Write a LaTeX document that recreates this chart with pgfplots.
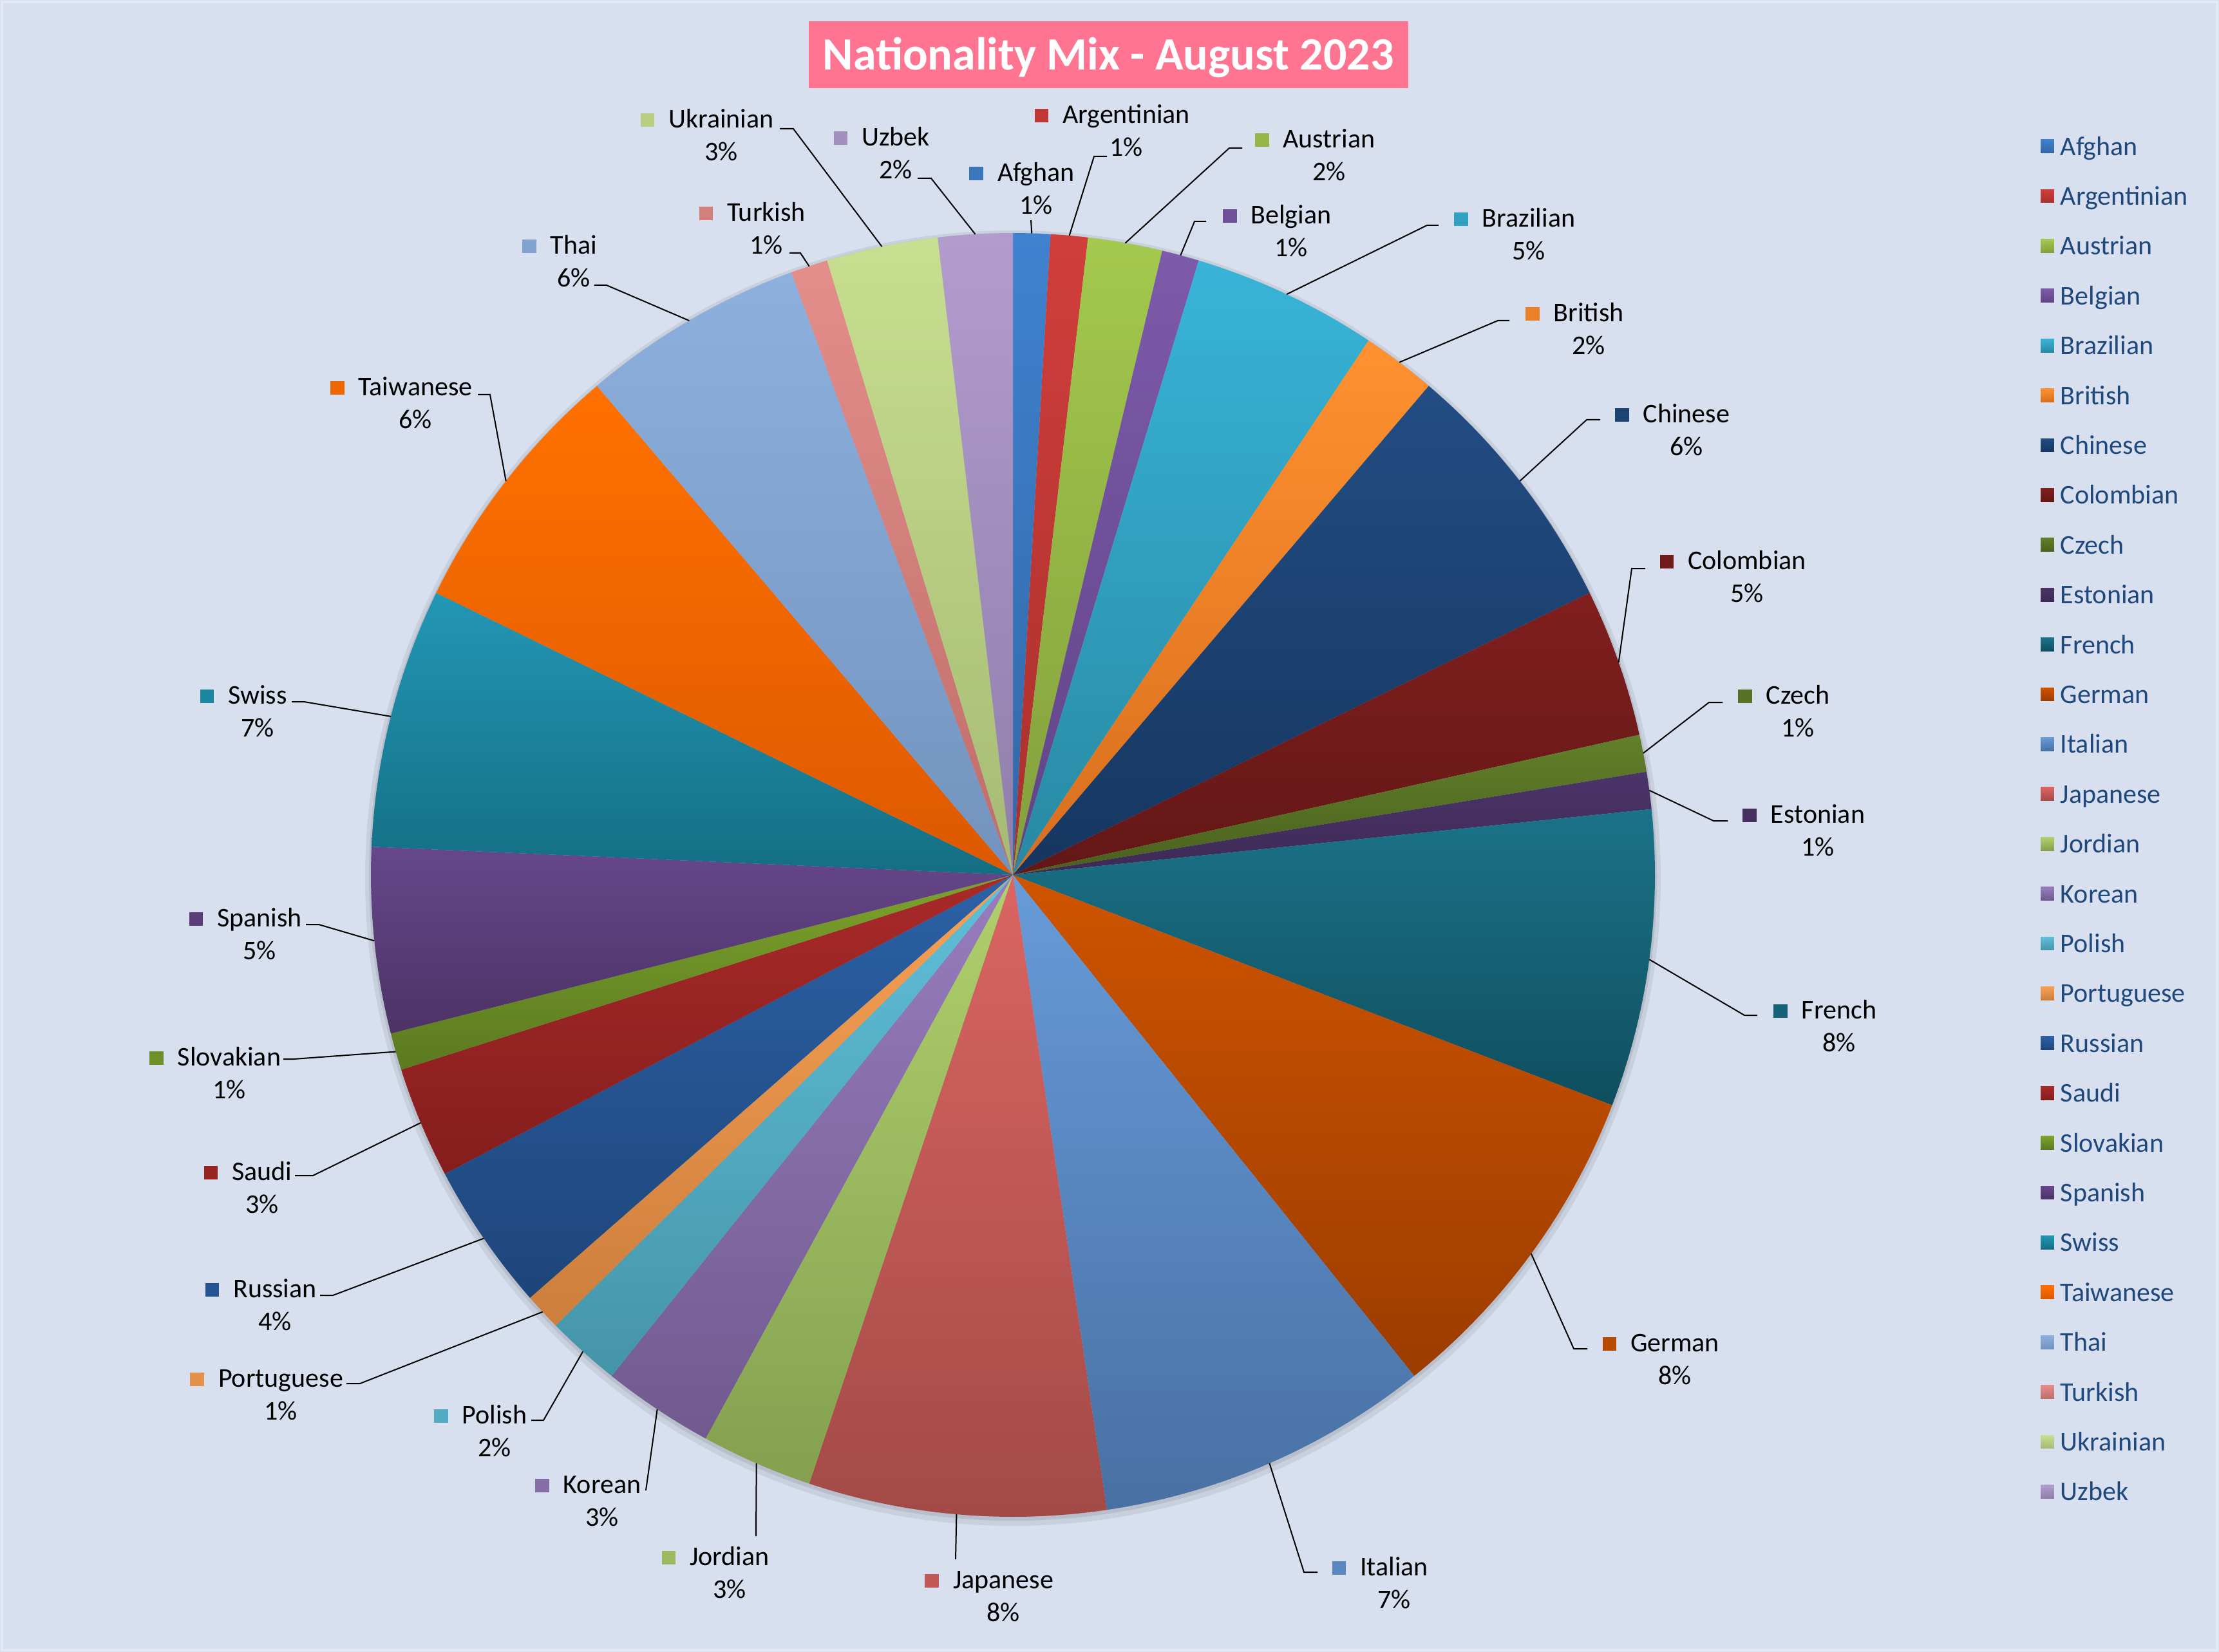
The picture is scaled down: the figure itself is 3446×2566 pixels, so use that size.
\documentclass[border=0pt]{standalone}
\usepackage{pgfplots}
\pgfplotsset{compat=1.18}
\usepackage{pgfplotstable}
\usepackage{fontspec}
\setmainfont{Carlito}

\definecolor{chartbg}{HTML}{D8DFEE}
\definecolor{chartedge}{HTML}{E2E8F4}
\definecolor{legtext}{HTML}{1F497D}
\definecolor{titlebox}{HTML}{FF7591}

% pie centre and radius, in pixels of the 3446x2566 canvas (y downwards)
\def\cx{1573}
\def\cy{1359}
\def\rad{997}

\newcommand\lbfont{\fontsize{10.5}{12}\selectfont}
\newcommand\labkey[1]{\llap{\textcolor{top#1!55!bot#1}{\rule[0.3pt]{5.4pt}{5.4pt}}\hspace{5.5pt}}}

\tikzset{
  leader/.style={black, line width=0.5pt},
  lab/.style={anchor=base, inner sep=0pt, font=\lbfont, text=black},
}

% count = slice size, pct = the label as printed, lx/ly = label centre,
% bx/by = leader elbow, ex/ey = leader end, top/bot = gradient colours
\pgfplotstableread[col sep=comma]{
name,count,pct,lx,ly,bx,by,ex,ey,top,bot
Afghan,1,1,1609,268,1601,342,1601,342,3F82CF,3267A6
Argentinian,1,1,1749,178,1699,243,1719,243,D13E3B,A8302D
Austrian,2,2,2064,216,1909,230,1929,230,A3C94D,839F3D
Belgian,1,1,2005,334,1855,344,1873,344,7D5AAA,604486
Brazilian,5,5,2374,339,2216,350,2234,350,38B4D8,2889A3
British,2,2,2467,486,2326,498,2344,498,FF9130,D86E1E
Chinese,7,6,2619,643,2464,652,2485,652,224D83,163660
Colombian,4,5,2713,871,2534,883,2555,883,801F1E,621716
Czech,1,1,2792,1080,2654,1091,2675,1091,62802A,4A601E
Estonian,1,1,2823,1265,2661,1275,2683,1275,4B3468,3D2A55
French,8,8,2856,1569,2709,1577,2729,1577,1B7389,0F4E5E
German,9,8,2601,2086,2444,2095,2465,2095,CE5400,9C3C00
Italian,9,7,2165,2434,2025,2442,2046,2442,679BD9,4870A3
Japanese,8,8,1558,2454,1484,2422,1484,2422,DB6562,A24A47
Jordian,3,3,1133,2418,1174,2386,1174,2386,B0D06C,84A050
Korean,3,3,935,2306,1003,2315,1003,2315,977DBE,705A8E
Polish,2,2,768,2198,844,2206,825,2206,5FC0D9,4594A9
Portuguese,1,1,436,2141,559,2149,538,2149,F8A155,CC7E3C
Russian,4,4,427,2002,517,2012,497,2012,2B61A6,1E4579
Saudi,3,3,407,1820,486,1826,458,1826,A92A29,841D1D
Slovakian,1,1,356,1642,456,1645,440,1645,7CA32C,5B7920
Spanish,5,5,403,1426,495,1436,475,1436,67478C,4C3265
Swiss,7,7,400,1080,472,1090,453,1090,2397B5,146E84
Taiwanese,7,6,645,601,761,613,742,613,FF7100,DD5900
Thai,6,6,891,381,942,443,923,443,8DB0DE,7393BE
Turkish,1,1,1190,330,1243,393,1226,393,E48E8A,BE6D69
Ukrainian,3,3,1120,185,1232,200,1211,200,C8DE90,A6BA74
Uzbek,2,2,1391,213,1446,277,1425,277,B29CCE,8F7EAA
}\natdata

\pgfplotstablegetrowsof{\natdata}
\pgfmathtruncatemacro\nlast{\pgfplotsretval-1}

% total of all counts
\def\total{0}
\pgfplotsforeachungrouped \i in {0,...,\nlast}{%
  \pgfplotstablegetelem{\i}{count}\of\natdata
  \pgfmathsetmacro\total{\total+\pgfplotsretval}%
}

% outline of every slice, clockwise from twelve o'clock
\def\cum{0}
\pgfplotsforeachungrouped \i in {0,...,\nlast}{%
  \pgfplotstablegetelem{\i}{count}\of\natdata
  \pgfmathsetmacro\angA{\cum/\total*360}%
  \pgfmathsetmacro\cum{\cum+\pgfplotsretval}%
  \pgfmathsetmacro\angB{\cum/\total*360}%
  \pgfmathsetmacro\angM{(\angA+\angB)/2}%
  \pgfmathtruncatemacro\nseg{max(2,ceil((\angB-\angA)/0.5))}%
  \xdef\pts{(\cx,\cy)}%
  \foreach \k in {0,...,\nseg}{%
    \pgfmathsetmacro\t{\angA+(\angB-\angA)*\k/\nseg}%
    \pgfmathsetmacro\px{\cx+\rad*sin(\t)}%
    \pgfmathsetmacro\py{\cy-\rad*cos(\t)}%
    \xdef\pts{\pts (\px,\py)}%
  }%
  \expandafter\xdef\csname slice\i\endcsname{\pts}%
  \pgfmathsetmacro\px{\cx+\rad*sin(\angM)}%
  \pgfmathsetmacro\py{\cy-\rad*cos(\angM)}%
  \expandafter\xdef\csname lead\i\endcsname{(\px,\py)}%
  \pgfplotstablegetelem{\i}{top}\of\natdata
  \edef\tmp{\noexpand\definecolor{top\i}{HTML}{\pgfplotsretval}}\tmp
  \pgfplotstablegetelem{\i}{bot}\of\natdata
  \edef\tmp{\noexpand\definecolor{bot\i}{HTML}{\pgfplotsretval}}\tmp
}

\begin{document}
\begin{tikzpicture}
\begin{axis}[
  width=861.5pt, height=641.5pt, scale only axis,
  xmin=0, xmax=3446, ymin=0, ymax=2566, y dir=reverse,
  hide axis, clip=false,
  legend image code/.code={\fill[#1] (0pt,-2.6pt) rectangle (5.2pt,2.6pt);},
  legend style={at={(axis cs:3169,207)}, anchor=north west,
    draw=none, fill=none, inner sep=0pt, outer sep=0pt,
    font=\lbfont, text=legtext, row sep=9.35pt, column sep=2.5pt,
    nodes={inner sep=0pt, text height=8.5pt, text depth=1.5pt}},
  legend cell align=left,
]
\fill[chartbg] (0,0) rectangle (3446,2566);
\draw[chartedge, line width=0.8pt] (3,3) rectangle (3443,2563);

% soft shadow round the pie
\fill[black, opacity=0.07] (\cx,\cy+5) circle[radius=251.5pt];
\fill[black, opacity=0.08] (\cx,\cy+3) circle[radius=250pt];

\pgfplotsforeachungrouped \i in {0,...,\nlast}{%
  \pgfplotstablegetelem{\i}{name}\of\natdata \let\nm\pgfplotsretval
  \edef\tmp{\noexpand\addplot[draw=none, top color=top\i, bottom color=bot\i]
      coordinates {\csname slice\i\endcsname};
    \noexpand\addlegendentry{\nm}}%
  \tmp
}

\pgfplotsforeachungrouped \i in {0,...,\nlast}{%
  \pgfplotstablegetelem{\i}{name}\of\natdata \let\nm\pgfplotsretval
  \pgfplotstablegetelem{\i}{pct}\of\natdata \let\pc\pgfplotsretval
  \pgfplotstablegetelem{\i}{lx}\of\natdata \let\lx\pgfplotsretval
  \pgfplotstablegetelem{\i}{ly}\of\natdata \let\ly\pgfplotsretval
  \pgfplotstablegetelem{\i}{bx}\of\natdata \let\bx\pgfplotsretval
  \pgfplotstablegetelem{\i}{by}\of\natdata \let\by\pgfplotsretval
  \pgfplotstablegetelem{\i}{ex}\of\natdata \let\ex\pgfplotsretval
  \pgfplotstablegetelem{\i}{ey}\of\natdata \let\ey\pgfplotsretval
  \pgfmathsetmacro\lya{\ly+13.5}%
  \pgfmathsetmacro\lyb{\ly+64.1}%
  \edef\tmp{\noexpand\draw[leader] \csname lead\i\endcsname -- (\bx,\by) -- (\ex,\ey);
    \noexpand\node[lab] at (\lx,\lya) {\noexpand\labkey{\i}\nm};
    \noexpand\node[lab] at (\lx,\lyb) {\pc\noexpand\%};}%
  \tmp
}

\node[fill=titlebox, text=white, font=\bfseries\fontsize{18}{20}\selectfont,
  minimum width=232.75pt, minimum height=26pt, inner sep=0pt,
  text height=11.6pt, text depth=0pt] at (1721,85) {Nationality Mix - August 2023};
\end{axis}
\end{tikzpicture}
\end{document}
